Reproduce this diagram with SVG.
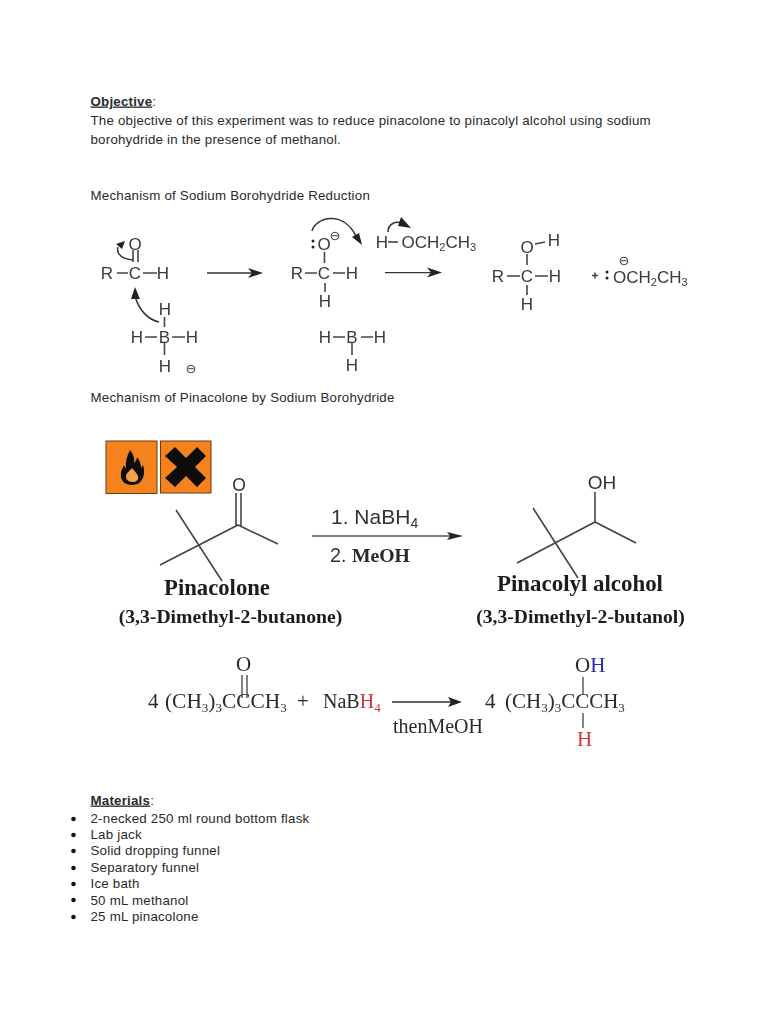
<svg xmlns="http://www.w3.org/2000/svg" width="768" height="1024" viewBox="0 0 768 1024">
<defs><filter id="soft" x="-5%" y="-5%" width="110%" height="110%"><feGaussianBlur stdDeviation="0.45"/></filter>
<filter id="soft2" x="-5%" y="-5%" width="110%" height="110%"><feGaussianBlur stdDeviation="0.3"/></filter></defs>
<style>
text{font-family:"Liberation Sans",Arial,sans-serif;fill:#222}
.d{font-size:13.3px;letter-spacing:.22px;fill:#2a2a2a}
.m{font-size:17px;fill:#3a3a3a;text-anchor:middle}
.e{font-size:17px;fill:#3a3a3a}
.n{font-family:"DejaVu Sans",sans-serif;font-size:13px;fill:#333;text-anchor:middle}
.b{stroke:#444;stroke-width:1.6;fill:none}
.k{stroke:#333;stroke-width:1.5;fill:none}
.l{stroke:#333;stroke-width:1.4;fill:none}
.h{fill:#222;stroke:none}
.t{font-family:"Liberation Serif","Times New Roman",serif;fill:#2a2a2a}
.tb{font-family:"Liberation Serif","Times New Roman",serif;font-weight:bold;fill:#1c1c1c;text-anchor:middle}
.r{fill:#d0343e}
</style>
<rect width="768" height="1024" fill="#fff"/>
<g id="objective">
<text class="d" x="90.500" y="105.500"><tspan font-weight="bold" text-decoration="underline">Objective</tspan>:</text>
<text class="d" x="90.500" y="125">The objective of this experiment was to reduce pinacolone to pinacolyl alcohol using sodium</text>
<text class="d" x="90.500" y="144">borohydride in the presence of methanol.</text>
<text class="d" x="90.500" y="199.500">Mechanism of Sodium Borohydride Reduction</text>
<text class="d" x="90.500" y="401.500">Mechanism of Pinacolone by Sodium Borohydride</text>
</g>
<g id="mechanism-1-reactant" filter="url(#soft)">
<text class="m" x="107" y="279">R</text><text class="m" x="135" y="279">C</text><text class="m" x="163" y="279">H</text>
<text class="m" x="135" y="250">O</text>
<text class="m" x="165" y="315">H</text>
<text class="m" x="137" y="343">H</text><text class="m" x="164.500" y="343">B</text><text class="m" x="192" y="343">H</text>
<text class="m" x="165" y="372">H</text>
<text class="n" x="191" y="373">⊖</text>
<path class="b" d="M117 273H128M143 273H157M133 250V262M138 250V262M164.500 317V327M145 337H157M172 337H185M164.500 343V355"/>
<path class="k" d="M133 260C122 259 116 254 118 247"/><path class="h" d="M116 244L125 241L122 249Z"/>
<path class="k" d="M159 322C149 320 139 311 135 296"/><path class="h" d="M135 287L140 299L131 299Z"/>
</g>
<g id="mechanism-1-intermediate" filter="url(#soft)">
<text class="m" x="297" y="279">R</text><text class="m" x="324" y="279">C</text><text class="m" x="352" y="279">H</text>
<text class="m" x="324" y="250">O</text><text class="m" x="325" y="307">H</text>
<text class="m" x="325" y="343">H</text><text class="m" x="352" y="343">B</text><text class="m" x="380" y="343">H</text>
<text class="m" x="352" y="371">H</text>
<text class="n" x="335" y="240">⊖</text>
<circle class="h" cx="313" cy="241" r="1.500"/><circle class="h" cx="313" cy="247" r="1.500"/>
<path class="b" d="M305 273H317M333 273H345M324.500 252V263M325 283V292M333 337H345M361 337H373M352 343V355"/>
<path class="k" d="M312 231C316 217 343 210 356 236"/><path class="h" d="M352 237L359 233L362 245Z"/>
</g>
<g id="mechanism-1-ethanol" filter="url(#soft)">
<text class="m" x="382" y="248">H</text><path class="b" d="M388 242H398"/>
<text class="e" x="401.500" y="248">OCH<tspan font-size="11" dy="3">2</tspan><tspan dy="-3">CH</tspan><tspan font-size="11" dy="3">3</tspan></text>
<path class="k" d="M388 232C388 224 395 221 402 223"/><path class="h" d="M401 217L411 228L398 226Z"/>
</g>
<g id="mechanism-1-product" filter="url(#soft)">
<text class="m" x="498" y="282">R</text><text class="m" x="527" y="282">C</text><text class="m" x="555" y="282">H</text>
<text class="m" x="527" y="253">O</text><text class="m" x="554" y="246">H</text><text class="m" x="527" y="310">H</text>
<path class="b" d="M507 276H520M535 276H548M527 254V265M527 285V295M535 244L545 242"/>
<path class="b" d="M592 275.500H598M595 272.500V278.500"/>
<circle class="h" cx="607" cy="272" r="1.500"/><circle class="h" cx="607" cy="278" r="1.500"/>
<text class="e" x="613" y="283">OCH<tspan font-size="11" dy="3">2</tspan><tspan dy="-3">CH</tspan><tspan font-size="11" dy="3">3</tspan></text>
<text class="n" x="624" y="265">⊖</text>
</g>
<g id="connectors">
<path class="l" d="M207 273H252M385 272.500H431" filter="url(#soft2)"/>
<path class="h" d="M263 273L248 268L252 273L248 278ZM442 272.500L427 267.500L431 272.500L427 277.500Z"/>
<path d="M312 536H452" stroke="#555" stroke-width="1.600" fill="none"/>
<path class="h" d="M463 536L447 532L450 536L447 540Z"/>
<path d="M392 702H455" stroke="#333" stroke-width="1.400" fill="none"/>
<path class="h" d="M462 702L448 697L451 702L448 707Z"/>
</g>
<g id="hazard-flammable" filter="url(#soft2)">
<rect x="106" y="441" width="51" height="52.500" fill="#f5821a" stroke="#6b3a10" stroke-width="1"/>
<path d="M130 450C133 454 135 458 134 463C136 461 137 459 137 457C140 461 141 464 141 468C142 467 142 466 143 465C146 474 143 485 132 485C124 485 120 480 121 473C121 470 123 468 124 465C125 467 125 468 126 468C125 462 127 456 130 450Z" fill="#111"/>
<path d="M132 468C134 471 137 473 138 476C139 480 136 482 133 482C129 482 126 480 126 476C126 473 130 471 132 468Z" fill="#f5a04a"/>
</g>
<g id="hazard-harmful" filter="url(#soft2)">
<rect x="160.500" y="441" width="50.500" height="52" fill="#f5821a" stroke="#6b3a10" stroke-width="1"/>
<path d="M165 456L175 447L186 458L197 447L206 456L195 467L206 478L197 487L186 476L175 487L165 478L177 467Z" fill="#111"/>
</g>
<g id="pinacolone" filter="url(#soft2)">
<text x="239" y="491" text-anchor="middle" font-size="17.500" style="fill:#333">O</text>
<path class="b" d="M236 493V526M241 493V526M176 510L222 581M160 565L199 545L238 525L278 544"/>
<text class="tb" x="217" y="595" font-size="22.700">Pinacolone</text>
<text class="tb" x="230.500" y="623" font-size="19.700">(3,3-Dimethyl-2-butanone)</text>
</g>
<g id="reagents" filter="url(#soft2)">
<text x="331" y="524" font-size="21" style="fill:#333">1. NaBH<tspan font-size="14" dy="4">4</tspan></text>
<text x="330" y="562" font-size="19.700" style="fill:#333">2. <tspan class="t" font-weight="bold">MeOH</tspan></text>
</g>
<g id="pinacolyl" filter="url(#soft2)">
<text x="602" y="489" text-anchor="middle" font-size="19" style="fill:#333">OH</text>
<path class="b" d="M595 492V522M533 508L578 578M517 563L595 522L636 543"/>
<text class="tb" x="580" y="591" font-size="22.900">Pinacolyl alcohol</text>
<text class="tb" x="580.500" y="623" font-size="19.600">(3,3-Dimethyl-2-butanol)</text>
</g>
<g id="equation" font-size="21" filter="url(#soft2)">
<text class="t" x="148" y="708">4</text>
<text class="t" x="165" y="708" font-size="21.400">(CH<tspan font-size="13" dy="4">3</tspan><tspan dy="-4">)</tspan><tspan font-size="13" dy="4">3</tspan><tspan dy="-4">CCCH</tspan><tspan font-size="13" dy="4">3</tspan></text>
<text class="t" x="236" y="671">O</text>
<path d="M242 675V698M247 675V698" stroke="#333" stroke-width="1.200" fill="none"/>
<text class="t" x="297" y="708">+</text>
<text class="t" x="323" y="708" font-size="20">NaB<tspan class="r">H</tspan><tspan class="r" font-size="13" dy="4">4</tspan></text>
<text class="t" x="393" y="733" font-size="20">thenMeOH</text>
<text class="t" x="485" y="708">4</text>
<text class="t" x="505" y="708" font-size="21">(CH<tspan font-size="13" dy="4">3</tspan><tspan dy="-4">)</tspan><tspan font-size="13" dy="4">3</tspan><tspan dy="-4">CCCH</tspan><tspan font-size="13" dy="4">3</tspan></text>
<text class="t" x="575" y="672">O<tspan style="fill:#2a2ab8">H</tspan></text>
<path d="M583 677V695M583 713V728" stroke="#333" stroke-width="1.200" fill="none"/>
<text class="t r" x="577" y="746">H</text>
</g>
<g id="materials">
<text class="d" x="90.500" y="804.500"><tspan font-weight="bold" text-decoration="underline">Materials</tspan>:</text>
<g id="bullets" fill="#111"><circle cx="73.500" cy="819" r="2.300"/><circle cx="73.500" cy="835" r="2.300"/><circle cx="73.500" cy="851" r="2.300"/><circle cx="73.500" cy="868" r="2.300"/><circle cx="73.500" cy="884" r="2.300"/><circle cx="73.500" cy="900" r="2.300"/><circle cx="73.500" cy="917" r="2.300"/></g>
<text class="d" x="90.500" y="823">2-necked 250 ml round bottom flask</text>
<text class="d" x="90.500" y="839">Lab jack</text>
<text class="d" x="90.500" y="855">Solid dropping funnel</text>
<text class="d" x="90.500" y="872">Separatory funnel</text>
<text class="d" x="90.500" y="888">Ice bath</text>
<text class="d" x="90.500" y="905">50 mL methanol</text>
<text class="d" x="90.500" y="921">25 mL pinacolone</text>
</g>
</svg>
